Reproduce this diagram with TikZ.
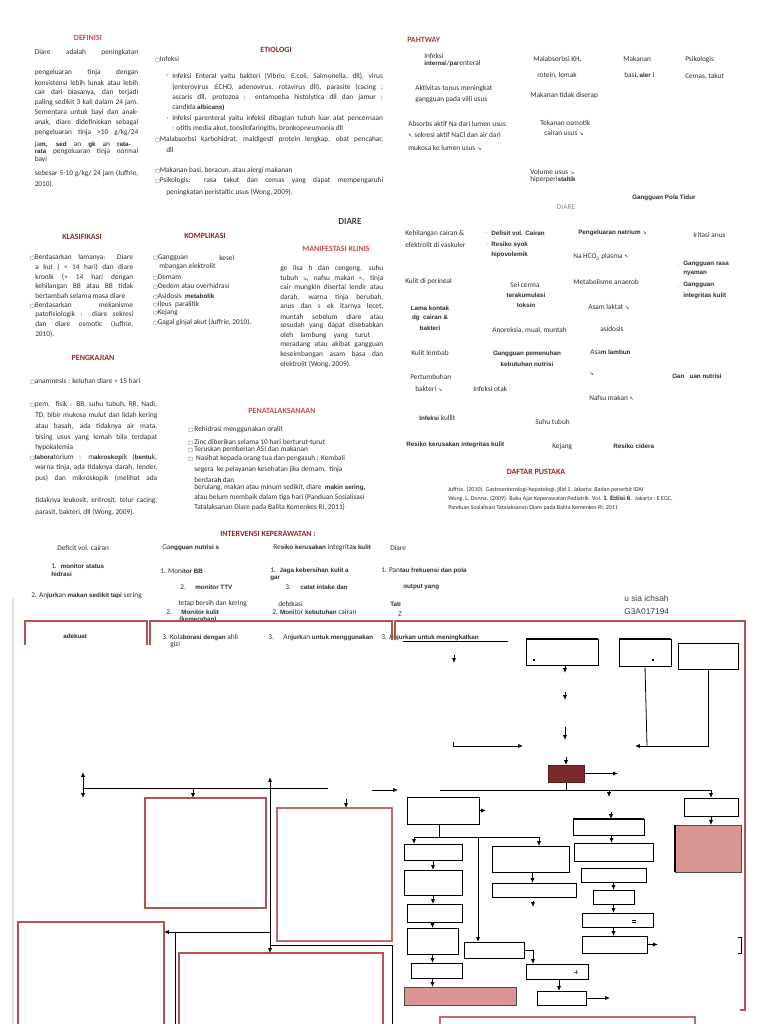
\documentclass[tikz,border=0pt]{standalone}
\usepackage{fontspec}
\setmainfont{Carlito}
\newfontfamily\ar{Liberation Sans}
\newfontfamily\dv{DejaVu Sans}
\usetikzlibrary{arrows.meta}
\definecolor{hred}{HTML}{C0504D}
\definecolor{hdark}{HTML}{8E2A2A}
\definecolor{fr}{HTML}{B5514F}
\definecolor{pinkf}{HTML}{D99594}
\definecolor{darkbox}{HTML}{7A2A2A}
\definecolor{edgec}{HTML}{D5E3EF}
\newcommand\fs{\fontsize{5.5}{6.5}\selectfont}
\newcommand\Bd{\ar\bfseries\fontsize{4.7}{5.5}\selectfont}
\newcommand\sq{{\dv\fontsize{3.6}{4}\selectfont □}}
\newcommand\adn{{\dv\fontsize{4}{4}\selectfont ↘}}
\newcommand\anw{{\dv\fontsize{4}{4}\selectfont ↖}}
\newcommand\Jst[2]{\makebox[#1pt][s]{#2}}
\newcounter{tnc}
\newcommand\Tx[4][]{\stepcounter{tnc}\node[tx,#1] (t\arabic{tnc}) at (#2,#3) {#4};}
\newcommand\Bx[6][bk]{\pgfmathsetmacro\mybw{(#5-#3)*0.75}\pgfmathsetmacro\mybh{(#6-#4)*0.75}%
  \node[#1, inner sep=0, outer sep=0, minimum width=\mybw pt, minimum height=\mybh pt, anchor=north west] (#2) at (#3,#4) {};}
\tikzset{
  tx/.style={anchor=west, inner sep=0, font=\fs, text=black!82},
  hd/.style={anchor=center, inner sep=0, font=\fontsize{6}{7}\selectfont\bfseries, text=hred},
  hdk/.style={hd, text=hdark},
  rf/.style={font=\fontsize{4.5}{5}\selectfont},
  bk/.style={draw=black, line width=0.6pt, fill=white},
  rbox/.style={draw=fr, line width=2pt},
  rboxt/.style={draw=fr!85, line width=1.4pt},
  pbox/.style={draw=black!70, line width=0.6pt, fill=pinkf},
  ln/.style={draw=black, line width=0.6pt},
  arr/.style={ln, -{Latex[length=3.6pt,width=3pt]}},
  darr/.style={ln, {Latex[length=3.6pt,width=3pt]}-{Latex[length=3.6pt,width=3pt]}},
  frame/.style={draw=fr, line width=1.7pt},
}
\begin{document}
\begin{tikzpicture}[x=0.75pt,y=-0.75pt]
\useasboundingbox (0,0) rectangle (768,1024);
\fill[white] (0,0) rectangle (768,1024);
\clip (0,0) rectangle (768,1024);
% ---------------- DEFINISI
\Tx[hd]{88}{38}{DEFINISI}
\Tx{34.5}{53}{\Jst{77.6}{Diare adalah peningkatan}}
\Tx{34.5}{73}{\Jst{77.6}{pengeluaran tinja dengan}}
\Tx{34.5}{83}{\Jst{77.6}{konsistensi lebih lunak atau lebih}}
\Tx{34.5}{93}{\Jst{77.6}{cair dari biasanya, dan terjadi}}
\Tx{34.5}{103}{\Jst{77.6}{paling sedikit 3 kali dalam 24 jam.}}
\Tx{34.5}{113}{\Jst{77.6}{Sementara untuk bayi dan anak-}}
\Tx{34.5}{123}{\Jst{77.6}{anak, diare didefiniskan sebagai}}
\Tx{34.5}{133}{\Jst{77.6}{pengeluaran tinja >10 g/kg/24}}
\Tx{34.5}{145}{\Jst{72}{ja{\Bd m,} {\Bd sed} an {\Bd gk} an {\Bd rata-}}}
\Tx{34.5}{152}{\Jst{77.6}{{\Bd rata} pengeluaran tinja normal}}
\Tx{34.5}{160}{bayi}
\Tx{34.5}{173}{\Jst{77.6}{sebesar 5-10 g/kg/ 24 jam (Juffrie,}}
\Tx{34.5}{184}{2010).}
% ---------------- ETIOLOGI
\Tx[hdk]{276}{50}{ETIOLOGI}
\Tx{155}{59}{\sq Infeksi}
\Tx{166}{76}{-}
\Tx{172}{76}{\Jst{158}{Infeksi Enteral yaitu bakteri (Vibrio, E.coli, Salmonella, dll), virus}}
\Tx{172}{87}{\Jst{158}{(enterovirus :ECHO, adenovirus, rotavirus dll), parasite (cacing :}}
\Tx{172}{98}{\Jst{158}{ascaris dll, protozoa : entamoeba histolytica dll dan jamur :}}
\Tx{172}{108}{candida {\Bd albicans)}}
\Tx{166}{119}{-}
\Tx{172}{119}{\Jst{158}{Infeksi parenteral yaitu infeksi dibagian tubuh luar alat pencernaan}}
\Tx{172}{129}{: otitis media akut, tonsilofaringitis, bronkopneumonia dll}
\Tx{155}{140}{\Jst{171}{\sq Malabsorbsi karbohidrat, maldigesti protein lengkap, obat pencahar,}}
\Tx{166}{150}{dll}
\Tx{155}{171}{\sq Makanan basi, beracun, atau alergi makanan}
\Tx{155}{181}{\Jst{171}{\sq Psikologis: rasa takut dan cemas yang dapat mempengaruhi}}
\Tx{166}{192}{peningkatan peristaltic usus (Wong, 2009).}
% ---------------- PATHWAY
\Tx[hd,anchor=west,text=hred!80!black]{407}{40}{PAHTWAY}
\Tx{424}{56}{Infeksi}
\Tx{424}{64}{{\Bd interna}l/{\Bd pa}renteral}
\Tx{533}{59}{Malabsorbsi KH,}
\Tx{537}{75}{rotein, lemak}
\Tx{623}{59}{Makanan}
\Tx{624}{75}{bas{\Bd i, aler} i}
\Tx{685}{60}{Psikologis}
\Tx{685}{76}{Cemas, takut}
\Tx{415}{89}{Aktivitas tonus meningkat}
\Tx{415}{100}{gangguan pada villi usus}
\Tx{530}{96}{Makanan tidak diserap}
\Tx{408}{124}{Absorbs aktif Na dari lumen usus}
\Tx{408}{135}{\anw{} sekresi aktif NaCl dan air dari}
\Tx{408}{148}{mukosa ke lumen usus \adn}
\Tx{540}{123}{Tekanan osmotik}
\Tx{544}{133}{cairan usus \adn}
\Tx{530}{172}{Volume usus \adn}
\Tx{530}{180}{hiperperi{\Bd staltik}}
\Tx{632}{198}{{\Bd Gangguan Pola Tidur}}
\Tx[anchor=center,text=black!45]{566}{207}{DIARE}
\Tx[anchor=center,font=\fontsize{7}{8}\selectfont,text=black]{350}{222}{DIARE}
% ---------------- KLASIFIKASI
\Tx[hdk]{82}{237}{KLASIFIKASI}
\Tx{30}{258}{\Jst{77}{\sq Berdasarkan lamanya: Diare}}
\Tx{35}{267.5}{\Jst{73.5}{a kut ( < 14 hari) dan diare}}
\Tx{35}{277}{\Jst{73.5}{kronik (> 14 hari dengan}}
\Tx{35}{286.5}{\Jst{73.5}{kehilangan BB atau BB tidak}}
\Tx{35}{296}{bertambah selama masa diare}
\Tx{30}{305.5}{\Jst{77}{\sq Berdasarkan mekanisme}}
\Tx{35}{315}{\Jst{73.5}{patofisiologik : diare sekresi}}
\Tx{35}{324.5}{\Jst{73.5}{dan diare osmotic (Juffrie,}}
\Tx{35}{334}{2010).}
% ---------------- KOMPLIKASI
\Tx[hdk]{205}{236}{KOMPLIKASI}
\Tx{153}{258}{\sq Gangguan}
\Tx{219}{258}{kesei}
\Tx{159}{267}{mbangan elektrolit}
\Tx{153}{277}{\sq Demam}
\Tx{153}{286}{\sq Oedem atau overhidrasi}
\Tx{153}{296}{\sq Asidosis \ {\Bd metabolik}}
\Tx{153}{305}{\sq Ileus \ paralitik}
\Tx{153}{313}{\sq Kejang}
\Tx{153}{322}{\sq Gagal ginjal akut (Juffrie, 2010).}
% ---------------- MANIFESTASI
\Tx[hd]{336}{249}{MANIFESTASI KLINIS}
\Tx{280}{269}{\Jst{77.3}{ge lisa h dan cengeng, suhu}}
\Tx{280}{278.5}{\Jst{77.3}{tubuh \adn, nafsu makan \anw, tinja}}
\Tx{280}{288}{\Jst{77.3}{cair mungkin disertai lendir atau}}
\Tx{280}{297.5}{\Jst{77.3}{darah, warna tinja berubah,}}
\Tx{280}{307}{\Jst{77.3}{anus dan s ek itarnya lecet,}}
\Tx{280}{316.5}{\Jst{77.3}{muntah sebelum diare atau}}
\Tx{280}{326}{\Jst{77.3}{sesudah yang dapat disebabkan}}
\Tx{280}{335.5}{\Jst{67.5}{oleh lambung yang turut}}
\Tx{280}{345}{\Jst{77.3}{meradang atau akibat gangguan}}
\Tx{280}{354.5}{\Jst{77.3}{keseimbangan asam basa dan}}
\Tx{280}{364}{elektrolit (Wong, 2009).}
% ---------------- PENGKAJIAN
\Tx[hdk]{93}{358}{PENGKAJIAN}
\Tx{30}{381}{\sq anamnesis : keluhan diare < 15 hari}
\Tx{30}{405}{\Jst{95}{\sq pem. fisik : BB, suhu tubuh, RR, Nadi,}}
\Tx{35}{416}{\Jst{91.5}{TD, bibir mukosa mulut dan lidah kering}}
\Tx{35}{427}{\Jst{91.5}{atau basah, ada tidaknya air mata,}}
\Tx{35}{437.5}{\Jst{91.5}{bising usus yang lemah bila terdapat}}
\Tx{35}{447.5}{hypokalemia}
\Tx{30}{457}{\Jst{95}{\sq{\Bd labora}torium \,: m{\Bd akroskop}ik \,({\Bd bentu}k,}}
\Tx{35}{468}{\Jst{91.5}{warna tinja, ada tidaknya darah, lender,}}
\Tx{35}{478}{\Jst{91.5}{pus) dan mikroskopik (melihat ada}}
\Tx{35}{501}{\Jst{91.5}{tidaknya leukosit, eritrosit, telur cacing,}}
\Tx{35}{512}{parasit, bakteri, dll (Wong, 2009).}
% ---------------- PENATALAKSANAAN
\Tx[hd]{282}{411}{PENATALAKSANAAN}
\Tx{188}{430}{\sq\ Rehidrasi menggunakan oralit}
\Tx{188}{442}{\sq\ Zinc diberikan selama 10 hari berturut-turut}
\Tx{188}{449.5}{\sq\ Teruskan pemberian ASI dan makanan}
\Tx{188}{459}{\sq\ \ Nasihat kepada orang tua dan pengasuh : Kembali}
\Tx{194}{470}{segera \ ke pelayanan kesehatan jika demam, \ tinja}
\Tx{194}{480}{berdara{\Bd h} dan}
\Tx{194}{487.5}{berulang, makan atau minum sedikit, diare \ {\Bd makin sering,}}
\Tx{194}{497.5}{atau belum membaik dalam tiga hari (Panduan Sosialisasi}
\Tx{194}{507.5}{Tatalaksanan Diare pada Balita Kemenkes RI, 2011)}
% ---------------- PATHWAY middle
\Tx{405}{234}{Kehilangan cairan \&}
\Tx{405}{245}{elektrolit di vaskuler}
\Tx[text=black!50]{485}{234}{-}
\Tx{491}{233}{{\Bd Defisit vol. Cairan}}
\Tx[text=black!50]{486}{245}{-}
\Tx{491}{245}{{\Bd Resiko syok}}
\Tx{491}{255}{{\Bd hipovolemik}}
\Tx{578}{233}{{\Bd Pengeluaran natrium} \adn}
\Tx{693}{235}{Iritasi anus}
\Tx{573}{257}{Na HCO\textsubscript{3} plasma \anw}
\Tx[text=black!50]{677}{266}{.}
\Tx{683}{264}{{\Bd Gangguan rasa}}
\Tx{683}{273}{{\Bd nyaman}}
\Tx[text=black!50]{677}{287}{.}
\Tx{683}{285}{{\Bd Gangguan}}
\Tx{683}{295.5}{{\Bd integritas kulit}}
\Tx{405}{282}{Kulit di perineal}
\Tx[anchor=center]{525}{285}{Sel cerma}
\Tx[anchor=center]{526}{295}{{\Bd terakumulasi}}
\Tx[anchor=center]{526}{305}{{\Bd toksin}}
\Tx{573}{282}{Metabolisme anaerob}
\Tx{588}{307}{Asam laktat \adn}
\Tx[anchor=center]{430}{308}{{\Bd Lama kontak}}
\Tx[anchor=center]{430}{318}{{\Bd dg \ cairan \&}}
\Tx[anchor=center]{430}{328}{{\Bd bakteri}}
\Tx{492}{330}{Anoreksia, mual, muntah}
\Tx{600}{329}{asidosis}
\Tx{411}{353}{Kulit lembab}
\Tx[anchor=center]{527}{354}{{\Bd Gangguan pemenuhan}}
\Tx[anchor=center]{527}{364}{{\Bd kebutuhan nutrisi}}
\Tx{590}{352}{Asa{\Bd m lambun}}
\Tx{589}{374}{\adn}
\Tx{672}{376}{{\Bd Gan \ \ uan nutrisi}}
\Tx{410}{377}{Pertumbuhan}
\Tx{415}{389}{bakteri \adn}
\Tx{473}{389}{Infeksi otak}
\Tx{589}{398}{Nafsu makan \anw}
\Tx{419}{418}{{\Bd Infeksi} kullit}
\Tx{535}{422}{Suhu tubuh}
\Tx{406}{445}{{\Bd Resiko kerusakan integritas kulit}}
\Tx{552}{446.5}{Kejang}
\Tx{613}{446.5}{{\Bd Resiko cidera}}
% ---------------- DAFTAR PUSTAKA
\Tx[hdk]{536}{472}{DAFTAR PUSTAKA}
\Tx[rf]{448}{490}{Juffrie. (2010). Gastroenterologi-hepatologi, jilid 1. Jakarta: Badan penerbit IDAI}
\Tx[rf]{448}{499}{Wong, L. Donna. (2009). Buku Ajar Keperawatan Pediatrik. Vol. {\Bd 1}. {\Bd Edisi 6}. \ Jakarta : E EGC.}
\Tx[rf]{448}{508}{Panduan Sosialisasi Tatalaksanan Diare pada Balita Kemenkes RI, 2011}
% ---------------- INTERVENSI
\Tx[hdk]{268}{534}{INTERVENSI KEPERAWATAN :}
\Tx{57}{548}{Deficit vol. cairan}
\Tx{162}{548}{Ga{\Bd ngguan nutrisi s}}
\Tx{273}{548}{Re{\Bd siko kerusakan} integrita{\Bd s kulit}}
\Tx{390}{548}{Diare}
\Tx{51}{566}{1. \ {\Bd monitor status}}
\Tx{51}{574}{{\Bd hidrasi}}
\Tx{160}{571}{1. Mon{\Bd itor BB}}
\Tx{270}{571}{1. \ {\Bd Jaga kebersihan kulit a}}
\Tx{270}{578}{{\Bd gar}}
\Tx{381}{571}{1. Pan{\Bd tau frekuensi dan pola}}
\Tx{31}{596}{2. An{\Bd jurk}an {\Bd makan sedikit tapi} sering}
\Tx{180}{587}{2. \quad {\Bd monitor TTV}}
\Tx{285}{587}{3. \quad {\Bd catat intake dan}}
\Tx{403}{587}{{\Bd output yang}}
\Tx{178}{604}{tetap bersih dan kering}
\Tx{278}{604}{defekasi}
\Tx{390}{604}{{\Bd Tati}}
\Tx{398}{614}{Z}
\Tx{166}{612}{2. \quad {\Bd Monitor kulit}}
\Tx{179}{620}{{\Bd (kemerahan)}}
\Tx{272}{612}{2. {\Bd Mon}itor {\Bd kebutuhan} cairan}
\Tx{63}{636}{{\Bd adekuat}}
\Tx{162}{638}{3. Kola{\Bd borasi dengan} ahli}
\Tx{170}{645}{gizi}
\Tx{268}{638}{3. \quad An{\Bd jurk}an {\Bd untuk menggunakan}}
\Tx{381}{638}{3. An{\Bd jurkan untuk meningkatkan}}
\Tx[font=\ar\fontsize{6.3}{7}\selectfont,text=black!75]{624}{598}{u sia ichsah}
\Tx[font=\ar\fontsize{6.3}{7}\selectfont,text=black!75]{624}{612}{G3A017194}
% ---------------- frame
\draw[edgec, line width=0.8pt] (13,598) -- (13,1024);
\draw[frame] (25,645) -- (25,621) -- (147,621) -- (147,645);
\draw[frame] (150,645) -- (150,621) -- (392,621) -- (392,640);
\draw[frame] (395,640) -- (395,621) -- (745,621) -- (745,1010) -- (740,1010);
\draw[ln, line width=0.5pt] (403,641) -- (508,641);
% ---------------- boxes
\Bx{bA}{526}{639}{598}{665}
\Bx{bB}{619}{639}{671}{666}
\Bx{bC}{678}{643}{738}{669}
\draw[line width=1.3pt] (bA.north west) -- (bA.north east);
\draw[line width=1.3pt] (bB.north west) -- (bB.north east);
\fill (533,659) rectangle (535,661);
\fill (652,659) rectangle (654,661);
\Bx[fill=darkbox, draw=darkbox!70!black, line width=0.6pt]{dk}{548}{765}{584}{782}
\Bx{bD}{407}{797}{479}{824}
\Bx{bE}{684}{798}{738}{816}
\Bx[pbox]{bF}{675}{825}{741}{872}
\draw[line width=1.2pt] (bF.north west) -- (bF.south west);
\Bx{bG}{573}{819}{644}{835}
\draw[line width=1.3pt] (bG.north west) -- (bG.north east);
\Bx{bH}{574}{843}{653}{861}
\Bx{bI}{581}{868}{646}{882}
\Bx{bJ}{593}{890}{634}{904}
\Bx{bK}{582}{913}{653}{927}
\draw[line width=0.5pt] (632,920) -- (636,920) (632,922) -- (636,922);
\Bx{bL}{582}{936}{647}{953}
\Bx{bM}{404}{844}{462}{860}
\Bx{bN}{404}{870}{462}{895}
\Bx{bO}{407}{904}{462}{922}
\Bx{bP}{407}{928}{458}{954}
\Bx{bQ}{411}{963}{462}{978}
\Bx[pbox]{bR}{404}{987}{516}{1005}
\Bx{bS}{492}{846}{569}{872}
\Bx{bT}{492}{883}{576}{897}
\Bx{bU}{464}{942}{524}{958}
\Bx{bV}{526}{964}{588}{979}
\draw[black!60, line width=0.4pt] (574,972) -- (578,972) (576,970) -- (576,974);
\Bx{bW}{537}{991}{586}{1005}
\Bx[rbox]{r1}{145}{798}{266}{908}
\Bx[rboxt]{r2}{277}{808}{392}{941}
\Bx[rbox]{r3}{179}{953}{383}{1040}
\Bx[rbox]{r4}{18}{922}{164}{1040}
\Bx[rboxt]{r5}{440}{1017}{695}{1040}
% ---------------- connectors
\draw[arr] (454,655) -- (454,663);
\draw[arr] (bA.south) ++(3,0) -- ++(0,8);
\draw[arr] (565,692) -- (565,700);
\draw[arr] (565,727) -- (565,740);
\draw[ln] (bB.south) -- (647,746);
\draw[arr] (bC.south) |- (635,746);
\draw[arr] (453,742) |- (523,746);
\draw[arr] (dk.north) ++(0,-8) -- (dk.north);
\draw[arr] (dk.east) -- ++(34,0);
\draw[ln] (dk.south) -- (566,790);
\draw[ln] (440,790) -- (711,790);
\draw[arr] (711,790) -- (bE.north);
\draw[arr] (609,790) -- (609,797);
\draw[arr] (372,790) -- (398,790);
\draw[arr] (bD.east) -- ++(7,0);
\draw[ln] (439,824) -- (439,837);
\draw[ln] (414,837) -- (539,837);
\draw[arr] (414,837) -- (414,844);
\draw[arr] (539,837) -- (539,846);
\draw[arr] (478,837) -- (bU.north -| 478,0);
\draw[arr] (bM.south) -- (bN.north);
\draw[arr] (bN.south) -- (bN.south |- bO.north);
\draw[arr] (bO.south -| bP.north) -- (bP.north);
\draw[arr] (bP.south) -- (bP.south |- bQ.north);
\draw[arr] (bQ.south -| bP.south) -- (bR.north -| bP.south);
\draw[arr] (bS.south) ++(2,0) -- ++(0,11);
\draw[arr] (533,901) -- (533,907);
\draw[arr] (bU.east) -| (bV.north -| 533,0);
\draw[arr] (bV.south) ++(2,0) -- ++(0,12);
\draw[arr] (bW.east) -- ++(24,0);
\draw[arr] (611,812) -- (bG.north -| 611,0);
\draw[arr] (bG.south) ++(3,0) -- ++(0,8);
\draw[arr] (bI.south) -- (bJ.north);
\draw[arr] (bJ.south) -- (bJ.south |- bK.north);
\draw[arr] (bK.south -| bJ.south) -- (bL.north -| bJ.south);
\draw[arr] (bL.east) -- ++(11,0);
\draw[ln] (738,937) -- (741,937) -- (741,953) -- (738,953);
\draw[arr] (bE.south) -- (bE.south |- bF.north);
% left part
\draw[darr] (83,772) -- (83,798);
\draw[ln] (83,788) -- (328,788);
\draw[arr] (193,788) -- (r1.north -| 193,0);
\draw[darr] (270,777) -- (r3.north -| 270,0);
\draw[arr] (346,799) -- (r2.north -| 346,0);
\draw[arr] (270,932) -- (r4.east |- 0,932);
\draw[ln] (175,933) -- (175,1030);
\draw[ln] (270,945) -- (392,945) -- (392,1030);
\end{tikzpicture}
\end{document}
